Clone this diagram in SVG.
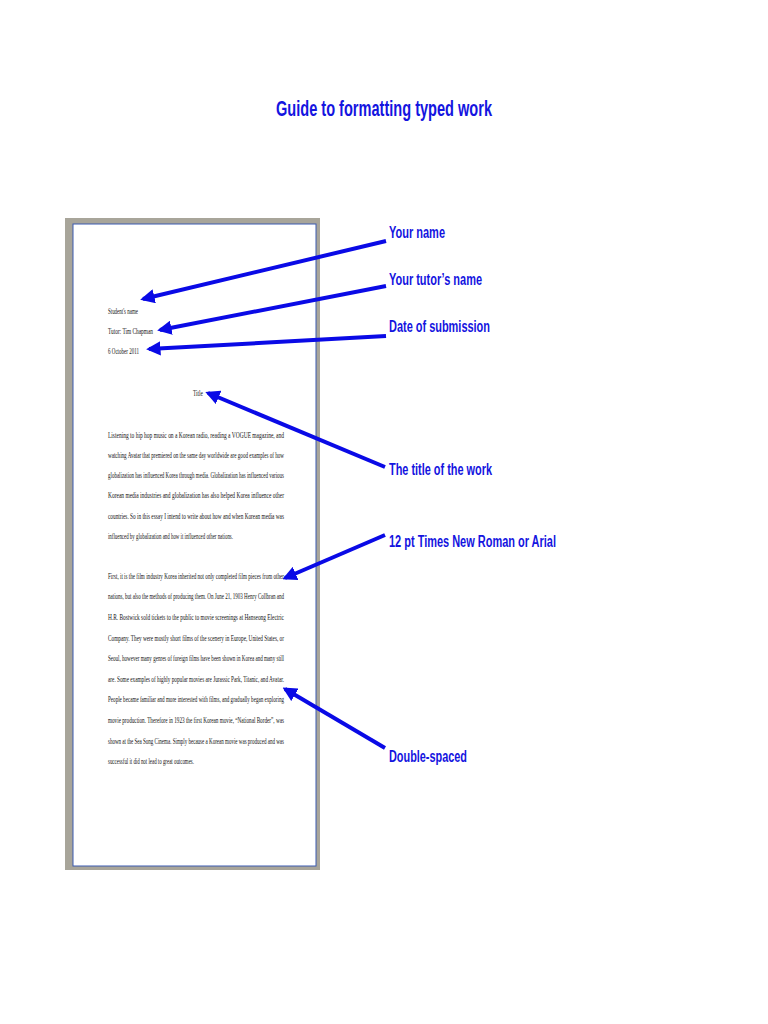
<svg xmlns="http://www.w3.org/2000/svg" width="768" height="1024" viewBox="0 0 768 1024">
<style>
.lbl{font-family:"Liberation Sans",sans-serif;font-weight:bold;font-size:16px;fill:#1414e0}
.t{font-family:"Liberation Serif",serif;font-size:7.2px;fill:#111}
.a{stroke:#0a0ae6;stroke-width:4;fill:none;marker-end:url(#h)}
</style>
<defs><marker id="h" viewBox="0 0 10 10" refX="8" refY="5" markerWidth="3.6" markerHeight="3.6" orient="auto" markerUnits="strokeWidth"><path d="M0,0L10,5L0,10z" fill="#0a0ae6"/></marker></defs>
<rect width="768" height="1024" fill="#fff"/>
<text x="276" y="116" class="lbl" style="font-size:22px" textLength="216" lengthAdjust="spacingAndGlyphs">Guide to formatting typed work</text>
<g id="page">
<rect x="65" y="218" width="255" height="652" fill="#a8a59a"/>
<rect x="73" y="224" width="243" height="642" fill="#fff" stroke="#3a5ab0" stroke-width="1"/>
<text class="t" x="108" y="314" textLength="30" lengthAdjust="spacingAndGlyphs">Student's name</text>
<text class="t" x="108" y="334" textLength="45" lengthAdjust="spacingAndGlyphs">Tutor: Tim Chapman</text>
<text class="t" x="108" y="354" textLength="31" lengthAdjust="spacingAndGlyphs">6 October 2011</text>
<text class="t" x="193" y="396" textLength="10" lengthAdjust="spacingAndGlyphs">Title</text>
<g class="t">
<text x="108" y="438" textLength="176" lengthAdjust="spacingAndGlyphs">Listening to hip hop music on a Korean radio, reading a VOGUE magazine, and</text>
<text x="108" y="458" textLength="176" lengthAdjust="spacingAndGlyphs">watching Avatar that premiered on the same day worldwide are good examples of how</text>
<text x="108" y="478" textLength="176" lengthAdjust="spacingAndGlyphs">globalization has influenced Korea through media. Globalization has influenced various</text>
<text x="108" y="498" textLength="176" lengthAdjust="spacingAndGlyphs">Korean media industries and globalization has also helped Korea influence other</text>
<text x="108" y="519" textLength="176" lengthAdjust="spacingAndGlyphs">countries. So in this essay I intend to write about how and when Korean media was</text>
<text x="108" y="539" textLength="125" lengthAdjust="spacingAndGlyphs">influenced by globalization and how it influenced other nations.</text>
<text x="108" y="579" textLength="176" lengthAdjust="spacingAndGlyphs">First, it is the film industry Korea inherited not only completed film pieces from other</text>
<text x="108" y="599" textLength="176" lengthAdjust="spacingAndGlyphs">nations, but also the methods of producing them. On June 21, 1903 Henry Collbran and</text>
<text x="108" y="620" textLength="176" lengthAdjust="spacingAndGlyphs">H.R. Bostwick sold tickets to the public to movie screenings at Hanseong Electric</text>
<text x="108" y="641" textLength="176" lengthAdjust="spacingAndGlyphs">Company. They were mostly short films of the scenery in Europe, United States, or</text>
<text x="108" y="661" textLength="176" lengthAdjust="spacingAndGlyphs">Seoul, however many genres of foreign films have been shown in Korea and many still</text>
<text x="108" y="682" textLength="176" lengthAdjust="spacingAndGlyphs">are. Some examples of highly popular movies are Jurassic Park, Titanic, and Avatar.</text>
<text x="108" y="702" textLength="176" lengthAdjust="spacingAndGlyphs">People became familiar and more interested with films, and gradually began exploring</text>
<text x="108" y="723" textLength="176" lengthAdjust="spacingAndGlyphs">movie production. Therefore in 1923 the first Korean movie, “National Border”, was</text>
<text x="108" y="744" textLength="176" lengthAdjust="spacingAndGlyphs">shown at the Sea Song Cinema. Simply because a Korean movie was produced and was</text>
<text x="108" y="764" textLength="86" lengthAdjust="spacingAndGlyphs">successful it did not lead to great outcomes.</text>
</g>
</g>
<g id="labels">
<text class="lbl" x="389" y="238" textLength="56" lengthAdjust="spacingAndGlyphs">Your name</text>
<text class="lbl" x="389" y="285" textLength="93" lengthAdjust="spacingAndGlyphs">Your tutor’s name</text>
<text class="lbl" x="389" y="332" textLength="101" lengthAdjust="spacingAndGlyphs">Date of submission</text>
<text class="lbl" x="389" y="475" textLength="103" lengthAdjust="spacingAndGlyphs">The title of the work</text>
<text class="lbl" x="389" y="547" textLength="167" lengthAdjust="spacingAndGlyphs">12 pt Times New Roman or Arial</text>
<text class="lbl" x="389" y="762" textLength="78" lengthAdjust="spacingAndGlyphs">Double-spaced</text>
</g>
<g id="connectors">
<line class="a" x1="386" y1="241" x2="143" y2="299"/>
<line class="a" x1="386" y1="286" x2="160" y2="330"/>
<line class="a" x1="386" y1="336" x2="149" y2="349"/>
<line class="a" x1="385" y1="467" x2="208" y2="393"/>
<line class="a" x1="385" y1="535" x2="285" y2="578"/>
<line class="a" x1="385" y1="748" x2="285" y2="689"/>
</g>
</svg>
